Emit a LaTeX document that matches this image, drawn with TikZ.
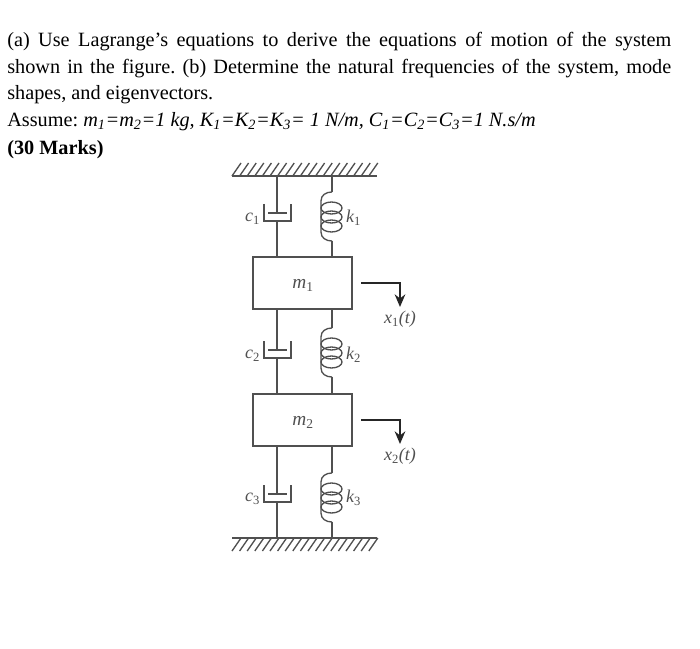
\documentclass[tikz,border=0pt]{standalone}
\usepackage{fontspec}
\setmainfont{Liberation Serif}
\usetikzlibrary{arrows.meta}
\definecolor{fig}{HTML}{505050}
\newlength{\pxu}\setlength{\pxu}{0.75pt}
\newcommand{\subup}[1]{\textsubscript{\upshape #1}}
\frenchspacing
\tikzset{
  para/.style={anchor=base west,inner sep=0pt,text=black,font=\fontsize{15.2}{18}\selectfont},
  lbl/.style={inner sep=0pt,text=fig,font=\fontsize{13.5}{16}\selectfont\itshape},
  mech/.style={draw=fig,line width=1pt},
  massbox/.style={mech,minimum width=74.25pt,minimum height=39pt,inner sep=0pt,rectangle},
  hatch/.style={draw=fig,line width=1pt},
  motion/.style={draw=black!85,line width=1.3pt,-{Stealth[length=9.5pt,width=8pt]}}
}
\begin{document}
\begin{tikzpicture}[x=0.75pt,y=-0.75pt]
\useasboundingbox (0,0) rectangle (700,649);
% text
\node[para] (t1) at (7,47) {\makebox[498pt][s]{(a) Use Lagrange’s equations to derive the equations of motion of the system}};
\node[para] (t2) at (7,73.5) {\makebox[498pt][s]{shown in the figure. (b) Determine the natural frequencies of the system, mode}};
\node[para] (t3) at (7,100) {shapes, and eigenvectors.};
\node[para] (t4) at (7,127) {Assume: \textit{m\textsubscript{1}=m\textsubscript{2}=1 kg, K\textsubscript{1}=K\textsubscript{2}=K\textsubscript{3}= 1 N/m, C\textsubscript{1}=C\textsubscript{2}=C\textsubscript{3}=1 N.s/m}};
\node[para] (t5) at (7,155) {\textbf{(30 Marks)}};
% grounds
\coordinate (gtl) at (232,176); \coordinate (gtr) at (377,176);
\coordinate (gbl) at (232,538); \coordinate (gbr) at (377,538);
\draw[mech] (gtl) -- (gtr);
\draw[mech] (gbl) -- (gbr);
\foreach \x in {0,7.6,...,137} {
  \draw[hatch] ([xshift=\x*\pxu]gtl) -- ++(9,-13);
  \draw[hatch] ([xshift=\x*\pxu+9*\pxu]gbl) -- ++(-9,13);
}
% masses
\node[massbox] (m1) at (302.5,283) {};
\node[massbox] (m2) at (302.5,420) {};
\node[lbl,font=\fontsize{14.5}{16}\selectfont\itshape] (m1l) at (303,285.5) {m\subup{1}};
\node[lbl,font=\fontsize{14.5}{16}\selectfont\itshape] (m2l) at (303,422.5) {m\subup{2}};
% anchors on the masses and grounds
\coordinate (d0) at (277,176); \coordinate (s0) at (332,176);
\coordinate (d1t) at (277,257); \coordinate (s1t) at (332,257);
\coordinate (d1b) at (277,309); \coordinate (s1b) at (332,309);
\coordinate (d2t) at (277,394); \coordinate (s2t) at (332,394);
\coordinate (d2b) at (277,446); \coordinate (s2b) at (332,446);
\coordinate (d3) at (277,538); \coordinate (s3) at (332,538);
% dampers
\foreach \from/\to/\yy in {d0/d1t/204,d1b/d2t/341,d2b/d3/485} {
  \coordinate (p) at (277,\yy+9);
  \coordinate (q) at (277,\yy+17);
  \draw[mech] (\from) -- (p);
  \draw[mech] (q) -- (\to);
  \draw[mech] (268,\yy+9) -- (287,\yy+9);
  \draw[mech] (264,\yy) -- (264,\yy+17) -- (291,\yy+17) -- (291,\yy);
}
% springs
\foreach \from/\to/\yy in {s0/s1t/192,s1b/s2t/328,s2b/s3/473} {
  \coordinate (a) at (332,\yy);
  \coordinate (b) at (332,\yy+49);
  \draw[mech] (\from) -- (a);
  \draw[mech] (b) -- (\to);
  \draw[mech] (a) .. controls (326,\yy) and (321,\yy+3) .. (321,\yy+9) -- (321,\yy+40) .. controls (321,\yy+46) and (326,\yy+49) .. (b);
  \foreach \k in {16,25,34} \draw[mech] (331.5,\yy+\k) ellipse [x radius=10.5,y radius=6];
}
% labels
\node[lbl] (c1) at (252.5,218.5) {c\subup{1}};
\node[lbl] (c2) at (252.5,355.5) {c\subup{2}};
\node[lbl] (c3) at (252.5,498.5) {c\subup{3}};
\node[lbl] (k1) at (353.5,218) {k\subup{1}};
\node[lbl] (k2) at (353.5,355) {k\subup{2}};
\node[lbl] (k3) at (353.5,498) {k\subup{3}};
% motion
\coordinate (a1) at (361,283); \coordinate (a1c) at (400,283); \coordinate (a1e) at (400,307);
\coordinate (a2) at (361,420); \coordinate (a2c) at (400,420); \coordinate (a2e) at (400,444);
\draw[motion] (a1) -- (a1c) -- (a1e);
\draw[motion] (a2) -- (a2c) -- (a2e);
\node[lbl] (x1) at (400,319) {x\subup{1}(t)};
\node[lbl] (x2) at (400,456) {x\subup{2}(t)};
\end{tikzpicture}
\end{document}
